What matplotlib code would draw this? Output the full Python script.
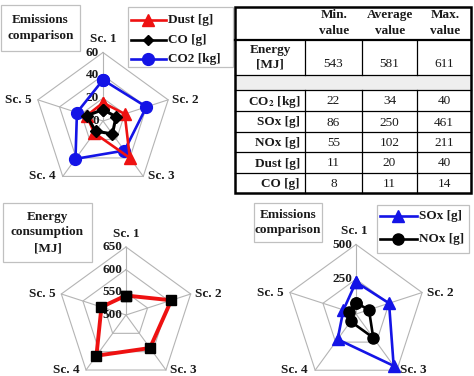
import numpy as np
import matplotlib
matplotlib.use("Agg")
import matplotlib.pyplot as plt
from matplotlib.patches import Rectangle

plt.rcParams['font.family'] = ['Liberation Serif', 'DejaVu Serif']
plt.rcParams['mathtext.fontset'] = 'stix'

# ---------------- data ----------------
CATS = ['Sc. 1', 'Sc. 2', 'Sc. 3', 'Sc. 4', 'Sc. 5']

DUST = [16, 20, 40, 13, 15]
CO = [10, 12, 14, 11, 15]
CO2 = [36, 40, 32, 41, 24]

ENERGY = [543, 605, 590, 611, 557]

SOX = [230, 250, 461, 225, 95]
NOX = [80, 98, 211, 66, 55]

TICKS_EM = [0, 20, 40, 60]
TICKS_EN = [500, 550, 600, 650]
TICKS_SN = [0, 250, 500]

TABLE_HEAD = ['Min.\nvalue', 'Average\nvalue', 'Max.\nvalue']
TABLE_ROWS = ['CO$_{\\mathbf{2}}$ [kg]', 'SOx [g]', 'NOx [g]', 'Dust [g]', 'CO [g]']
TABLE_MIN = [22, 86, 55, 11, 8]
TABLE_AVG = [34, 250, 102, 20, 11]
TABLE_MAX = [40, 461, 211, 40, 14]
ENERGY_ROW = ['Energy\n[MJ]', 543, 581, 611]

# ---------------- layout ----------------
W, H = 474, 376
fig = plt.figure(figsize=(W / 100, H / 100), dpi=100)
ov = fig.add_axes([0, 0, 1, 1])
ov.set_xlim(0, W)
ov.set_ylim(H, 0)
ov.set_axis_off()

RED = '#ee1111'
BLUE = '#1414e6'
GRID = '#b4b4b4'
TXT = '#1a1a1a'
FS = 9.5


def radar(cx, cy, R, rmin, rmax, ticks, show_ticks, offsets):
    ax = fig.add_axes([(cx - R) / W, (H - cy - R) / H, 2 * R / W, 2 * R / H],
                      projection='polar')
    ax.set_theta_offset(np.pi / 2)
    ax.set_theta_direction(-1)
    ax.set_ylim(rmin, rmax)
    ax.set_axis_off()
    ang = np.linspace(0, 2 * np.pi, len(CATS), endpoint=False)
    closed = np.append(ang, ang[0])
    for t in ticks[1:]:
        ax.plot(closed, [t] * len(closed), color=GRID, lw=0.8, clip_on=False, zorder=1)
    for a in ang:
        ax.plot([a, a], [rmin, rmax], color=GRID, lw=0.8, clip_on=False, zorder=1)
    for a, c, (dx, dy, ha) in zip(ang, CATS, offsets):
        ax.annotate(c, xy=(a, rmax), xytext=(dx, dy), textcoords='offset pixels',
                    ha=ha, va='center', fontsize=FS, fontweight='bold', color=TXT,
                    annotation_clip=False)
    for t in show_ticks:
        ax.annotate(str(t), xy=(0, t), xytext=(-4, 0), textcoords='offset pixels',
                    ha='right', va='center', fontsize=FS, fontweight='bold', color=TXT,
                    annotation_clip=False, zorder=2)
    return ax, closed


def series(ax, closed, vals, color, marker, ms, lw=1.9, z=3, mcolor=None):
    v = list(vals) + [vals[0]]
    mc = mcolor or color
    ax.plot(closed, v, color=color, lw=lw, marker=marker, ms=ms,
            markerfacecolor=mc, markeredgecolor=mc, clip_on=False, zorder=z)


def titlebox(x0, y0, x1, y1, text):
    ov.add_patch(Rectangle((x0, y0), x1 - x0, y1 - y0, fill=False,
                           edgecolor='#c0c0c0', lw=0.9))
    ov.text((x0 + x1) / 2, (y0 + y1) / 2, text, ha='center', va='center',
            fontsize=FS, fontweight='bold', color=TXT, linespacing=1.4)


def legendbox(x0, y0, x1, y1, entries, rowy, lx0, lx1, tx):
    ov.add_patch(Rectangle((x0, y0), x1 - x0, y1 - y0, fill=False,
                           edgecolor='#c0c0c0', lw=0.9))
    for (lab, col, mk, ms), yy in zip(entries, rowy):
        ov.plot([lx0, lx1], [yy, yy], color=col, lw=1.9)
        ov.plot([(lx0 + lx1) / 2], [yy], marker=mk, ms=ms, color=col)
        ov.text(tx, yy, lab, ha='left', va='center', fontsize=FS,
                fontweight='bold', color=TXT)


# ---- chart 1: emissions (Dust, CO, CO2)
off1 = [(0, 13, 'center'), (4, 0, 'left'), (5, 0, 'left'), (-7, 0, 'right'), (-6, 0, 'right')]
ax1, cl = radar(103, 121, 68.5, 0, 60, TICKS_EM, [60, 40, 20, 0], off1)
series(ax1, cl, CO2, BLUE, 'o', 8.5, z=3)
series(ax1, cl, DUST, RED, '^', 8, z=4)
series(ax1, cl, CO, 'black', 'D', 6, lw=2.2, z=5)
titlebox(1, 5, 80, 51, 'Emissions\ncomparison')
legendbox(128, 7, 233, 67,
          [('Dust [g]', RED, '^', 8), ('CO [g]', 'black', 'D', 5.5), ('CO2 [kg]', BLUE, 'o', 8.5)],
          [20, 40, 59], 131, 166, 168)

# ---- chart 2: energy
off2 = [(0, 13, 'center'), (4, 0, 'left'), (4, 0, 'left'), (-6, 0, 'right'), (-6, 0, 'right')]
ax2, cl = radar(126, 315, 68, 500, 650, TICKS_EN, [650, 600, 550, 500], off2)
series(ax2, cl, ENERGY, RED, 's', 7.5, lw=2.8, mcolor='black')
titlebox(3, 203, 92, 262, 'Energy\nconsumption\n[MJ]')

# ---- chart 3: SOx / NOx
off3 = [(-2, 14, 'center'), (5, 0, 'left'), (3, 0, 'left'), (-8, 0, 'right'), (-6, 0, 'right')]
ax3, cl = radar(356, 314, 69.5, 0, 500, TICKS_SN, [500, 250], off3)
series(ax3, cl, SOX, BLUE, '^', 8.5)
series(ax3, cl, NOX, 'black', 'o', 8)
titlebox(254, 203, 322, 242, 'Emissions\ncomparison')
legendbox(377, 205, 469, 253,
          [('SOx [g]', BLUE, '^', 8.5), ('NOx [g]', 'black', 'o', 8)],
          [216, 239], 380, 417, 419)

# ---- table
L, R_, T, B = 235, 471, 7, 193
cols = [235, 305, 362, 417, 471]
y_head, y_en, y_blank = 40, 75, 90
row_edges = [90, 111, 132, 152, 173, 193]
ov.add_patch(Rectangle((L, y_en), R_ - L, y_blank - y_en, facecolor='#eeeeee',
                       edgecolor='none'))
for yy in [y_en, y_blank] + row_edges[1:-1]:
    ov.plot([L, R_], [yy, yy], color='black', lw=0.9)
ov.plot([L, R_], [y_head, y_head], color='black', lw=1.6)
for xx in cols[1:-1]:
    ov.plot([xx, xx], [y_head, y_en], color='black', lw=0.9)
    ov.plot([xx, xx], [y_blank, B], color='black', lw=0.9)
ov.add_patch(Rectangle((L, T), R_ - L, B - T, fill=False, edgecolor='black', lw=1.8))

ccent = [(cols[i] + cols[i + 1]) / 2 for i in range(4)]
for x, h in zip(ccent[1:], TABLE_HEAD):
    ov.text(x + 1, 23, h, ha='center', va='center', fontsize=FS, fontweight='bold',
            color=TXT, linespacing=1.35)
ov.text(ccent[0], 57, ENERGY_ROW[0], ha='center', va='center', fontsize=FS,
        fontweight='bold', color=TXT, linespacing=1.3)
for x, v in zip(ccent[1:], ENERGY_ROW[1:]):
    ov.text(x, 64, str(v), ha='center', va='center', fontsize=FS, color=TXT)
for i, lab in enumerate(TABLE_ROWS):
    yc = (row_edges[i] + row_edges[i + 1]) / 2 + 1
    ov.text(cols[1] - 5, yc, lab, ha='right', va='center', fontsize=FS,
            fontweight='bold', color=TXT)
    for x, v in zip(ccent[1:], [TABLE_MIN[i], TABLE_AVG[i], TABLE_MAX[i]]):
        ov.text(x, yc, str(v), ha='center', va='center', fontsize=FS, color=TXT)

fig.savefig('out.png', dpi=100)
